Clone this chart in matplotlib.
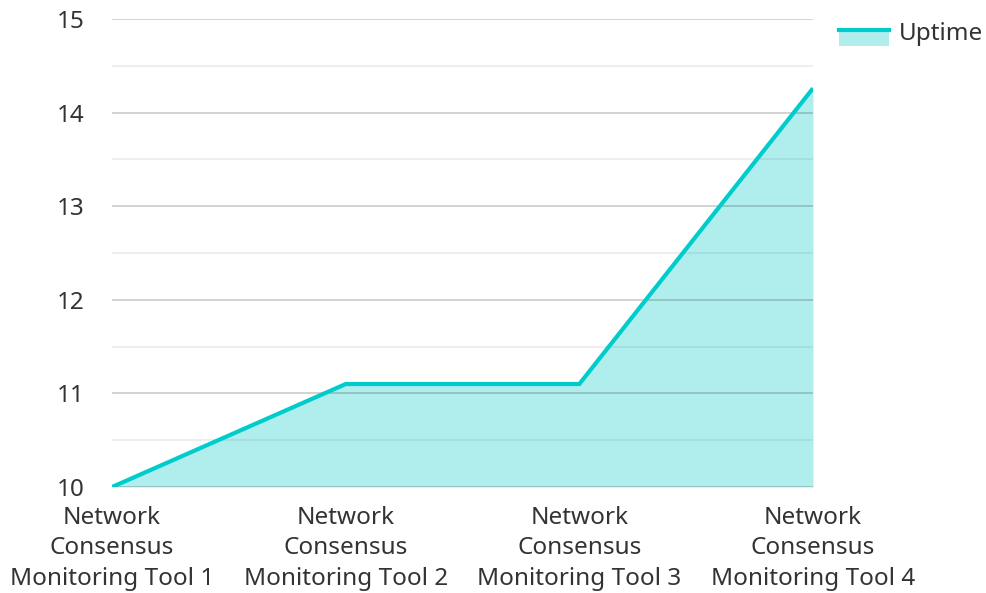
import matplotlib
matplotlib.use('Agg')
from matplotlib import pyplot as plt
from matplotlib.legend_handler import HandlerBase
from matplotlib.patches import Rectangle
from matplotlib.lines import Line2D
import numpy as np

plt.rcParams['font.family'] = ['Noto Sans', 'DejaVu Sans']

categories = ['Network\nConsensus\nMonitoring Tool 1', 'Network\nConsensus\nMonitoring Tool 2',
              'Network\nConsensus\nMonitoring Tool 3', 'Network\nConsensus\nMonitoring Tool 4']
uptime = [10, 11.1, 11.1, 14.26]
series_name = 'Uptime'

line_col = '#00cccc'
fill_col = '#b0eeee'
text_col = '#333333'


# Legend key: filled box with the line along its top edge
class AreaHandler(HandlerBase):
    def create_artists(self, legend, orig, xd, yd, w, h, fs, trans):
        top = -yd + h * 0.6
        box = Rectangle((-xd, top - 12), w, 12, facecolor=fill_col, edgecolor='none', transform=trans)
        ln = Line2D([-xd, -xd + w], [top, top], color=line_col, lw=3, transform=trans)
        return [box, ln]


fig = plt.figure(figsize=(9.87, 5.93), dpi=100)
ax = fig.add_axes([112 / 987, 1 - 487 / 593, (813 - 112) / 987, (487 - 19) / 593])

x = np.arange(len(categories))
ax.fill_between(x, 10, uptime, color=fill_col, lw=0, zorder=1)
ax.plot(x, uptime, color=line_col, lw=3, zorder=4, solid_capstyle='butt')

ax.set_xlim(0, len(categories) - 1)
ax.set_ylim(10, 15)
ax.set_yticks(np.arange(10, 15.1, 1))
ax.set_yticks(np.arange(10.5, 15, 1), minor=True)
ax.set_xticks(x)
ax.set_xticklabels(categories)
ax.set_axisbelow(False)
ax.grid(axis='y', which='major', color='black', alpha=0.2, lw=1.2)
ax.grid(axis='y', which='minor', color='black', alpha=0.08, lw=1.2)
for s in ax.spines.values():
    s.set_visible(False)
ax.tick_params(axis='both', which='both', length=0, labelsize=17.5, colors=text_col)
ax.tick_params(axis='y', pad=19.5)
ax.tick_params(axis='x', pad=13.5)
for lab in ax.get_xticklabels():
    lab.set_linespacing(1.37)

handle = Rectangle((0, 0), 1, 1)
fig.legend([handle], [series_name], handler_map={Rectangle: AreaHandler()},
           loc='upper right', bbox_to_anchor=(1.018, 1.0), frameon=False, fontsize=17.5,
           labelcolor=text_col, handlelength=2.05, handletextpad=0.4)

fig.savefig('out.png', dpi=100)
